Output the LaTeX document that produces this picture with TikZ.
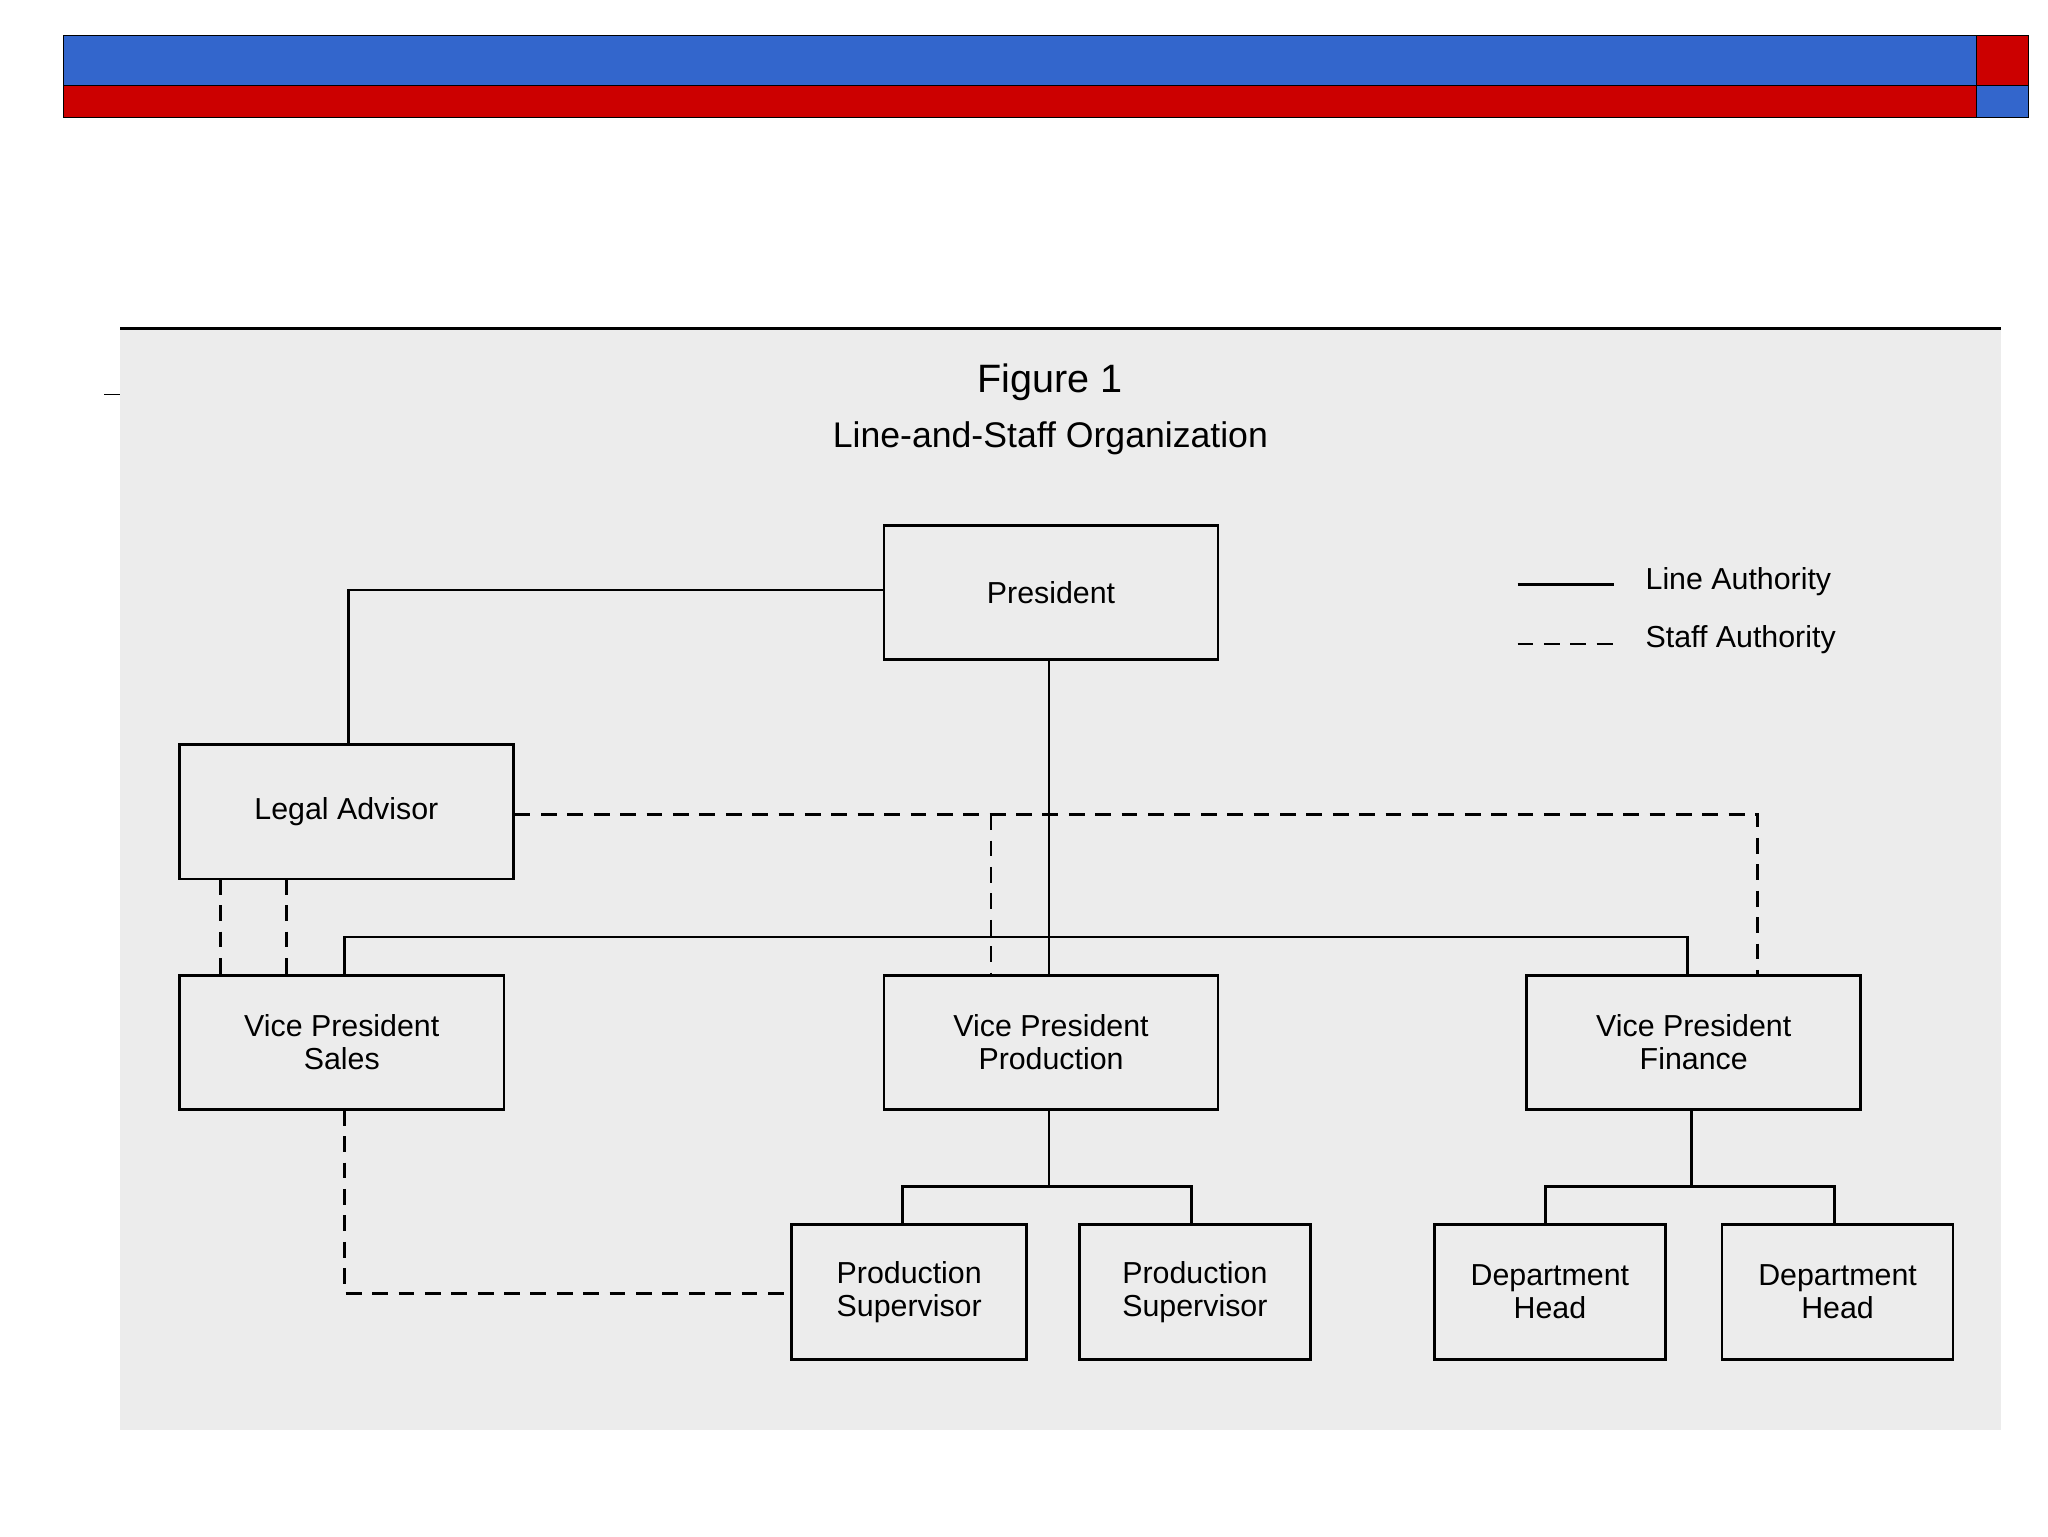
\documentclass[tikz,border=0pt]{standalone}
\usepackage{fontspec}
\setmainfont{Liberation Sans}
\begin{document}
\begin{tikzpicture}[x=0.5pt,y=-0.5pt,
  bx/.style={draw,line width=1pt,fill=none,align=center,inner sep=0pt,font=\fontsize{11.5}{12.5}\selectfont},
  ln/.style={line width=1pt},
  st/.style={line width=1pt,dash pattern=on 6pt off 4pt}]
\useasboundingbox (0,0) rectangle (1552,1164);
\fill[white] (0,0) rectangle (1552,1164);
% header bars
\draw[fill={rgb,255:red,51;green,102;blue,204}] (48,27) rectangle (1498,65);
\draw[fill={rgb,255:red,204;green,0;blue,0}] (48,65) rectangle (1498,89);
\draw[fill={rgb,255:red,204;green,0;blue,0}] (1498,27) rectangle (1537,65);
\draw[fill={rgb,255:red,51;green,102;blue,204}] (1498,65) rectangle (1537,89);
% panel
\fill[gray!15] (91,249) rectangle (1516,1084);
\draw[line width=1.2pt] (91,249) -- (1516,249);
\draw (79,299) -- (91,299);
\node[font=\fontsize{15}{16}\selectfont] (t1) at (796,290) {Figure 1};
\node[font=\fontsize{13.5}{15}\selectfont] (t2) at (796,332) {Line-and-Staff Organization};
% boxes
\node[bx,minimum width=126.5pt,minimum height=51pt] (pres) at (796.5,449) {President};
\node[bx,minimum width=126.5pt,minimum height=51pt] (legal) at (262.5,615) {Legal Advisor};
\node[bx,minimum width=123pt,minimum height=51pt] (vps) at (259,790) {Vice President\\Sales};
\node[bx,minimum width=126.5pt,minimum height=51pt] (vpp) at (796.5,790) {Vice President\\Production};
\node[bx,minimum width=126.5pt,minimum height=51pt] (vpf) at (1283.5,790) {Vice President\\Finance};
\node[bx,minimum width=89pt,minimum height=51pt] (ps1) at (689,979) {Production\\Supervisor};
\node[bx,minimum width=87.5pt,minimum height=51pt] (ps2) at (905.5,979) {Production\\Supervisor};
\node[bx,minimum width=87.5pt,minimum height=51pt] (dh1) at (1174.5,979) {Department\\Head};
\node[bx,minimum width=87.5pt,minimum height=51pt] (dh2) at (1392.5,979) {Department\\Head};
% line authority
\draw[ln] (pres.west |- 0,447) -- (264,447) -- (264,564);
\draw[ln] (795,500) -- (795,739);
\draw[ln] (261,739) -- (261,710) -- (1279,710) -- (1279,739);
\draw[ln] (795,841) -- (795,899);
\draw[ln] (684,928) -- (684,899) -- (903,899) -- (903,928);
\draw[ln] (1282,841) -- (1282,899);
\draw[ln] (1171,928) -- (1171,899) -- (1390,899) -- (1390,928);
% staff authority
\draw[st] (legal.east |- 0,617) -- (1332,617) -- (1332,739);
\draw[st] (751,617) -- (751,739);
\draw[st] (167,666) -- (167,739);
\draw[st] (217,666) -- (217,739);
\draw[st] (261,841) -- (261,980) -- (ps1.west |- 0,980);
% legend
\coordinate (l1a) at (1150,443); \coordinate (l1b) at (1223,443);
\coordinate (l2a) at (1150,488); \coordinate (l2b) at (1223,488);
\draw[ln] (l1a) -- (l1b);
\draw[st] (l2a) -- (l2b);
\node[anchor=west,font=\fontsize{11.5}{12.5}\selectfont] (lt1) at (1240,441) {Line Authority};
\node[anchor=west,font=\fontsize{11.5}{12.5}\selectfont] (lt2) at (1240,485) {Staff Authority};
\end{tikzpicture}
\end{document}
